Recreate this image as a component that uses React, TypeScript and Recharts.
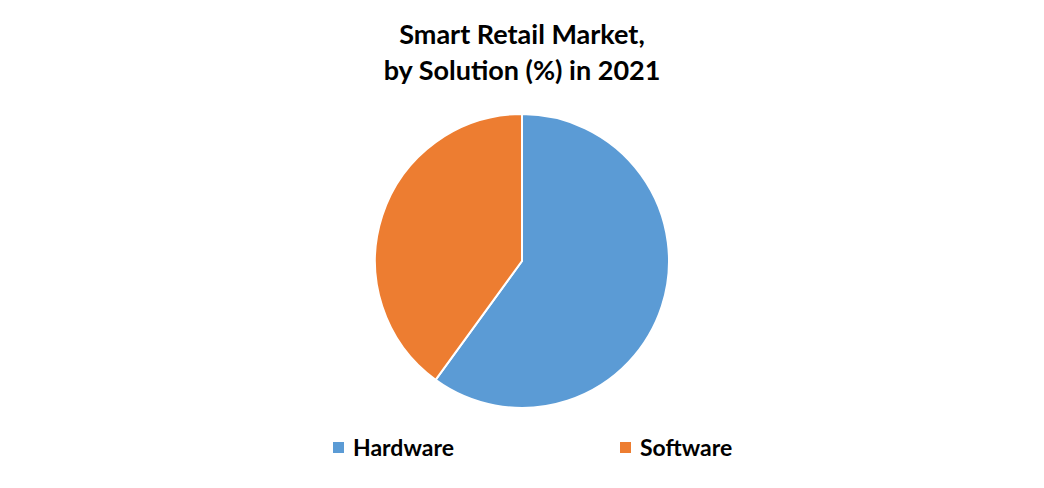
import React from "react";
import { PieChart, Pie, Cell, Legend } from "recharts";

const segments = ["Hardware", "Software"];
const shares = [60, 40];
const colors = ["#5B9BD5", "#ED7D31"];

const titleLines = ["Smart Retail Market,", "by Solution (%) in 2021"];

const data = segments.map((name, i) => ({ name, value: shares[i] }));

const font = "Lato, 'Open Sans', sans-serif";

const renderLegend = (props: any) => {
  const { payload } = props;
  return (
    <div style={{ display: "flex", paddingLeft: 333, fontFamily: font }}>
      {payload.map((entry: any) => (
        <div key={entry.value} style={{ display: "flex", alignItems: "center", width: 287 }}>
          <span
            style={{
              display: "inline-block",
              width: 11,
              height: 11,
              background: entry.color,
              marginRight: 9,
            }}
          />
          <span style={{ fontSize: 23, fontWeight: 700, color: "#000" }}>{entry.value}</span>
        </div>
      ))}
    </div>
  );
};

export default function App() {
  return (
    <div style={{ position: "relative", width: 1044, height: 488, background: "#fff" }}>
      <style>{"body{margin:0}"}</style>
      <div
        style={{
          position: "absolute",
          top: 16,
          left: 0,
          width: 1044,
          textAlign: "center",
          fontFamily: font,
          fontWeight: 700,
          fontSize: 27,
          lineHeight: "36px",
          color: "#000",
        }}
      >
        {titleLines.map((t) => (
          <div key={t}>{t}</div>
        ))}
      </div>
      <PieChart width={1044} height={488} margin={{ top: 0, right: 0, bottom: 0, left: 0 }}>
        <Pie
          data={data}
          dataKey="value"
          nameKey="name"
          cx={522}
          cy={261}
          outerRadius={147}
          startAngle={90}
          endAngle={-270}
          stroke="#fff"
          strokeWidth={2}
          isAnimationActive={false}
        >
          {data.map((d, i) => (
            <Cell key={d.name} fill={colors[i]} />
          ))}
        </Pie>
        <Legend
          content={renderLegend}
          wrapperStyle={{ position: "absolute", top: 433, left: 0, width: 1044 }}
        />
      </PieChart>
    </div>
  );
}
